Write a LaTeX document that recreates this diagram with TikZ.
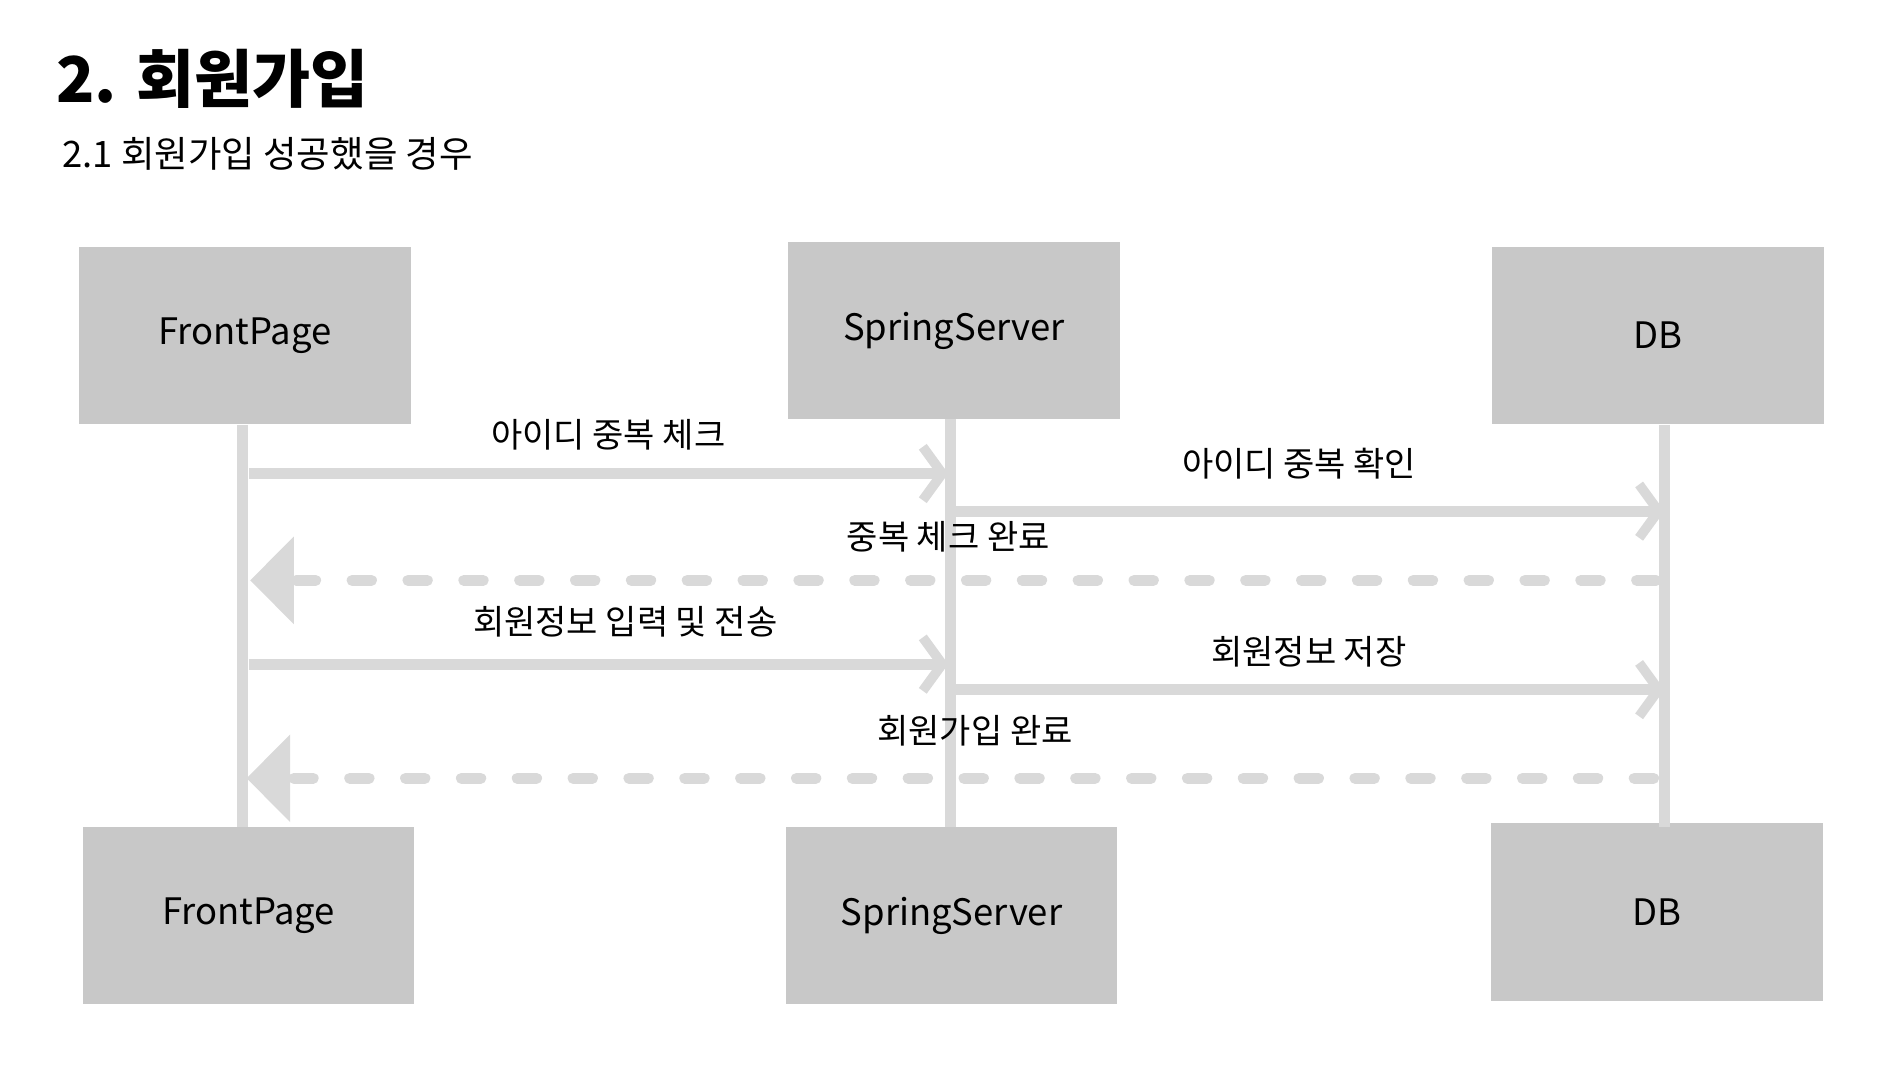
\documentclass[tikz,border=0pt]{standalone}
\usepackage{fontspec}
\setmainfont{Noto Sans CJK KR}
\usetikzlibrary{arrows.meta}
\definecolor{boxg}{HTML}{C8C8C8}
\definecolor{lineg}{HTML}{D9D9D9}
\begin{document}
\begin{tikzpicture}[x=1pt,y=-1pt,
  actor/.style={fill=boxg,draw=none,minimum width=273pt,minimum height=146pt,anchor=north west,font=\fontsize{30}{34}\selectfont,inner sep=0pt},
  life/.style={draw=lineg,line width=9pt},
  msg/.style={draw=lineg,line width=9pt,-{Straight Barb[length=16pt,width=44pt,line width=8pt]}},
  ret/.style={draw=lineg,line width=9pt,dash pattern=on 16pt off 30pt,line cap=round,-{Triangle[length=36pt,width=70pt,line cap=butt]}},
  lbl/.style={font=\fontsize{28}{32}\selectfont}]
\useasboundingbox (0,0) rectangle (1560,878);
\node[anchor=west,font=\fontsize{52}{60}\selectfont\bfseries] (t) at (43,65) {2. 회원가입};
\node[anchor=west,font=\fontsize{30}{36}\selectfont] (st) at (48,127) {2.1 회원가입 성공했을 경우};
\node[actor] (f1) at (65,203) {FrontPage};
\node[actor] (s1) at (649,199) {SpringServer};
\node[actor] (d1) at (1229,203) {DB};
\node[actor] (f2) at (68,681) {FrontPage};
\node[actor] (s2) at (647,681) {SpringServer};
\node[actor] (d2) at (1228,678) {DB};
\coordinate (fl) at (200,681);
\coordinate (sl) at (783,681);
\coordinate (dl) at (1371,681);
\draw[life] (200,350) -- (fl);
\draw[life] (783,345) -- (sl);
\draw[life] (1371,350) -- (dl);
\coordinate (a1s) at (205,390); \coordinate (a1e) at (781,390);
\coordinate (a2s) at (787,421); \coordinate (a2e) at (1371,421);
\coordinate (a3s) at (1364,478); \coordinate (a3e) at (206,478);
\coordinate (a4s) at (205,547); \coordinate (a4e) at (781,547);
\coordinate (a5s) at (787,568); \coordinate (a5e) at (1371,568);
\coordinate (a6s) at (1362,641); \coordinate (a6e) at (203,641);
\draw[msg] (a1s) -- (a1e);
\draw[msg] (a2s) -- (a2e);
\draw[ret] (a3s) -- (a3e);
\draw[msg] (a4s) -- (a4e);
\draw[msg] (a5s) -- (a5e);
\draw[ret] (a6s) -- (a6e);
\node[lbl] (l1) at (501,358) {아이디 중복 체크};
\node[lbl] (l2) at (1070,382) {아이디 중복 확인};
\node[lbl] (l3) at (781,442) {중복 체크 완료};
\node[lbl] (l4) at (515,512) {회원정보 입력 및 전송};
\node[lbl] (l5) at (1078,537) {회원정보 저장};
\node[lbl] (l6) at (803,602) {회원가입 완료};
\end{tikzpicture}
\end{document}
